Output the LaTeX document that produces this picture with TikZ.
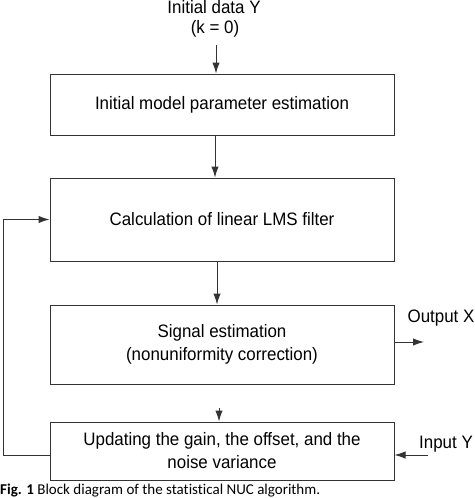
\documentclass[tikz,border=0pt]{standalone}
\usepackage{fontspec}
\setmainfont{Liberation Sans}[FakeStretch=0.94]
\newfontfamily\capfont{Carlito}[Ligatures={NoCommon}]
\usetikzlibrary{arrows.meta}
\begin{document}
\begin{tikzpicture}[x=1pt,y=-1pt,
  blk/.style={draw=black!80, line width=1pt, minimum width=344pt, inner sep=0pt,
    align=center, font=\fontsize{18}{23}\selectfont},
  arr/.style={draw=black!80, line width=1pt, -{Latex[length=11pt,width=7.5pt]}},
  ln/.style={draw=black!80, line width=1pt},
  lbl/.style={font=\fontsize{18}{23}\selectfont, inner sep=0pt}]
\useasboundingbox (0,0) rectangle (474,498);
% labels at top
\node[lbl, anchor=base] (init) at (214,13.5) {Initial data Y};
\node[lbl, anchor=base] (k0) at (215,33.5) {(k = 0)};
% blocks
\node[blk, minimum height=61pt] (b1) at (222,104.5) {Initial model parameter estimation};
\node[blk, minimum height=83pt] (b2) at (222,219.5) {Calculation of linear LMS filter};
\node[blk, minimum height=79pt] (b3) at (222,344.5) {Signal estimation\\(nonuniformity correction)};
\node[blk, minimum height=58pt] (b4) at (222,451) {Updating the gain, the offset, and the\\noise variance};
% side labels
\node[lbl, anchor=base] (outx) at (441,322) {Output X};
\node[lbl, anchor=base] (iny) at (446,448) {Input Y};
% coordinates
\coordinate (ktop) at (216,45);
\coordinate (outend) at (424,342);
\coordinate (instart) at (428,455);
\coordinate (small) at (219,408);
\coordinate (fbl) at (3,455);
\coordinate (fbu) at (3,219.5);
% connectors
\draw[arr] (ktop) -- (ktop |- b1.north);
\draw[arr] ([xshift=-7pt]b1.south) -- ([xshift=-7pt]b2.north);
\draw[arr] ([xshift=-5pt]b2.south) -- ([xshift=-5pt]b3.north);
\draw[arr] (small) -- (small |- b4.north);
\draw[arr] (b3.east |- outend) -- (outend);
\draw[arr] (instart) -- (b4.east |- instart);
\draw[ln] (b4.west |- fbl) -- (fbl) -- (fbu);
\draw[arr] (fbu) -- (b2.west);
% caption
\node[anchor=base west, inner sep=0pt, font=\capfont\fontsize{15}{17}\selectfont] (cap) at (0,494)
  {\textbf{Fig. 1} Block diagram of the statistical NUC algorithm.};
\end{tikzpicture}
\end{document}
